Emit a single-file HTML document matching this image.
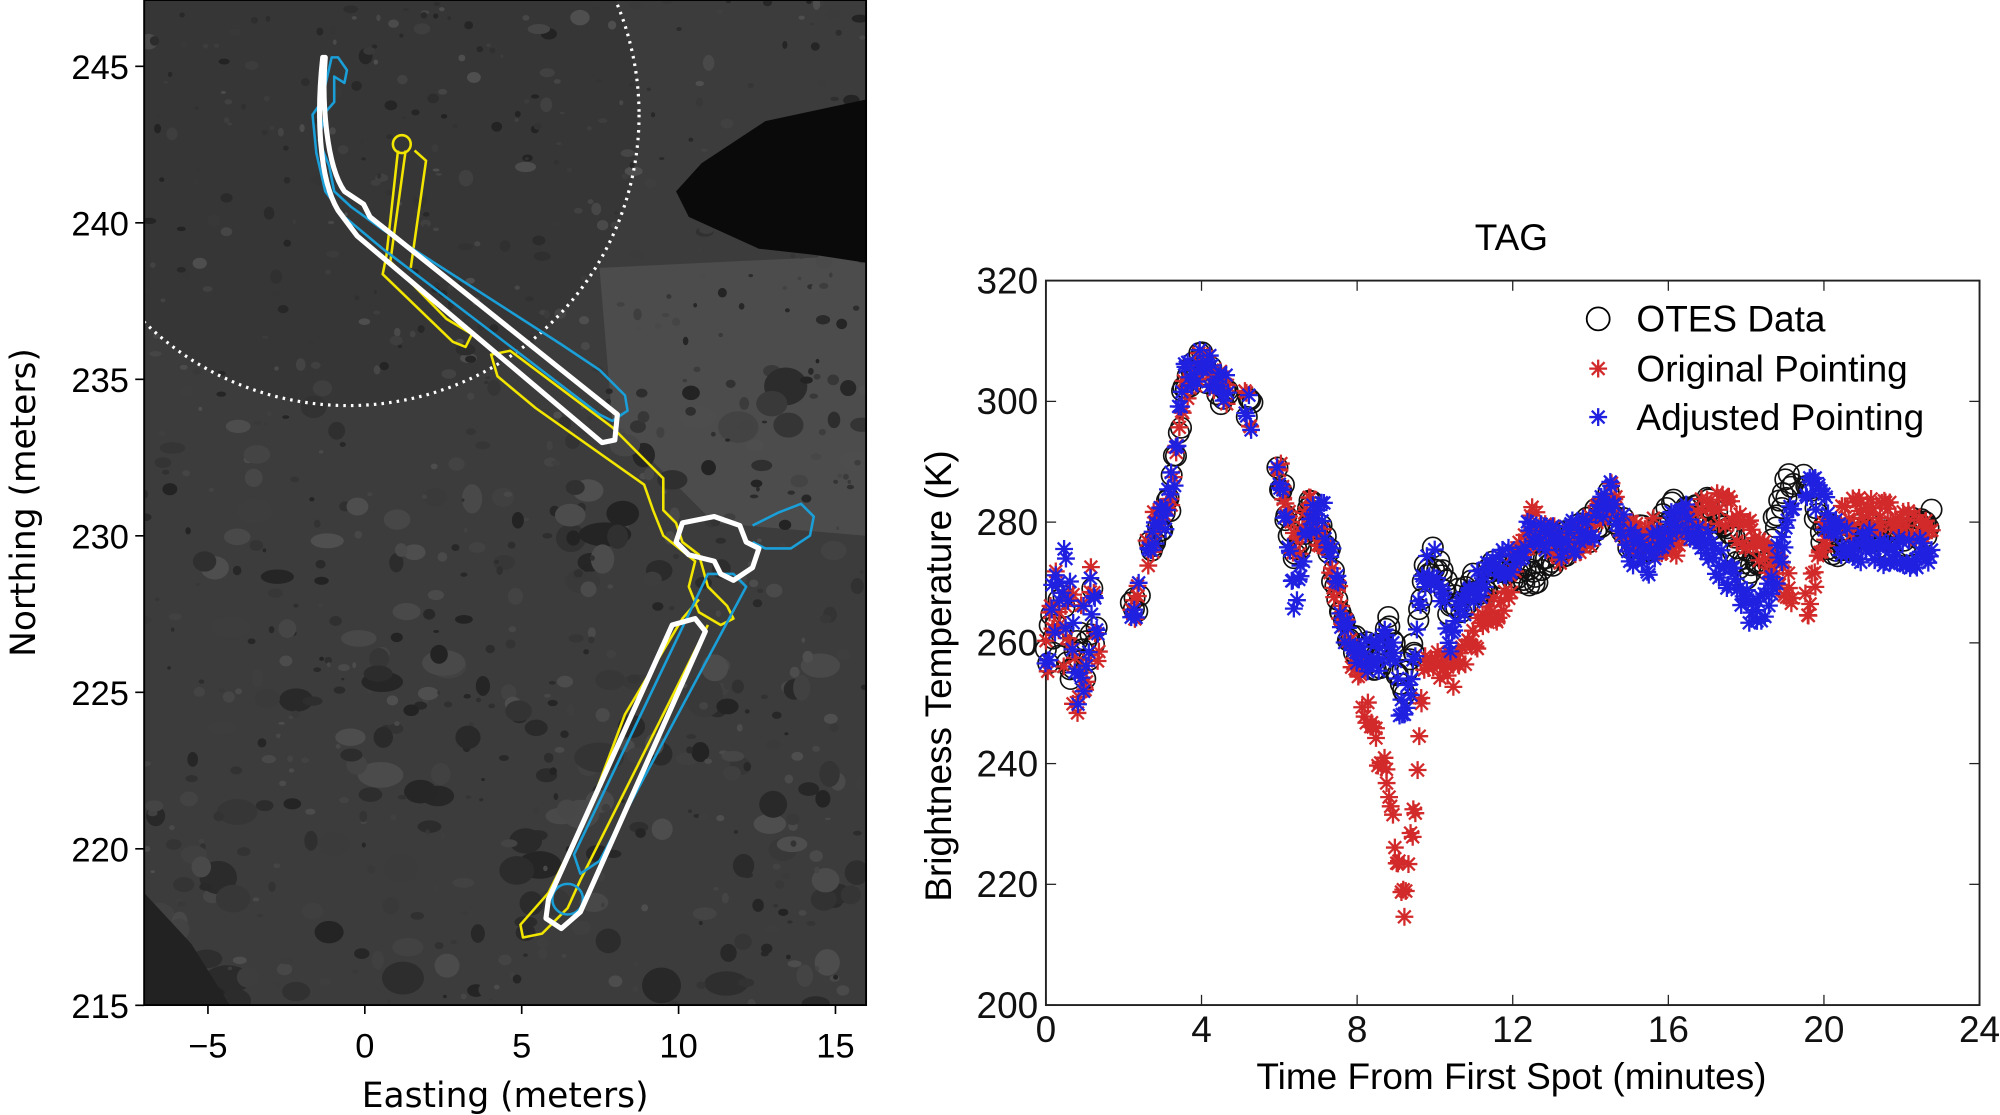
<!DOCTYPE html>
<html><head><meta charset="utf-8"><style>
html,body{margin:0;padding:0;background:#fff;}
svg{display:block;}
text{font-family:"Liberation Sans",sans-serif;}
.dj{font-family:"DejaVu Sans","Liberation Sans",sans-serif;}
</style></head><body>
<svg id="s" width="2000" height="1115" viewBox="0 0 1568 874.2" xmlns="http://www.w3.org/2000/svg">
<defs><clipPath id="mc"><rect x="113" y="0" width="566" height="788"/></clipPath></defs>
<g clip-path="url(#mc)">
<rect x="113" y="0" width="566" height="788" fill="#3c3c3c"/>
<circle cx="273" cy="90" r="228" fill="#363636"/>
<polygon points="470,210 679,200 679,420 560,410 480,330" fill="#4c4c4c"/>
<g id="rocks"></g>
<polygon points="550,128 600,95 679,78 679,206 640,200 595,195 540,170 530,150" fill="#0a0a0a"/>
<polygon points="113,700 150,740 180,788 113,788" fill="#222"/>
<circle cx="273" cy="90" r="228" fill="none" stroke="#fff" stroke-width="2.5" stroke-dasharray="2 4"/>
<g fill="none" stroke-width="2" stroke="#f2e600" stroke-linejoin="round">
<circle cx="315" cy="113" r="7"/>
<path d="M318,118 L306,205 L350,250 L370,262 L365,272 L355,268 L300,215 L303,200 L312,118"/>
<path d="M325,118 L334,126 L322,210"/>
<path d="M385,278 L400,275 L480,335 L520,375 L520,400 L530,410 L535,425 L548,435 L555,460 L570,475 L575,485 L565,490 L548,480 L540,460 L545,440 L520,420 L512,400 L505,380 L420,320 L390,295 Z"/>
<path d="M548,470 L535,485 L490,560 L460,640 L430,700 L408,725 L410,735 L425,732 L445,712 L455,690 L470,660 L500,600 L540,520 L555,490"/>
</g>
<g fill="none" stroke-width="2" stroke="#1a9fd8" stroke-linejoin="round">
<path d="M265,45 L272,55 L270,65 L262,60 L262,80 L255,88 L250,110 L258,130 L262,150 L275,162 L300,180 L440,270 L470,290 L490,310 L492,322 L480,330 L470,325 L300,195 L270,170 L255,150 L248,120 L245,90 L252,80 L260,45 Z"/>
<path d="M590,412 L610,402 L628,395 L638,405 L635,420 L620,430 L600,430 L590,425"/>
<path d="M575,450 L585,460 L470,675 L455,685 L450,670 L555,450 Z"/>
<circle cx="445" cy="705" r="12"/>
</g>
<g fill="none" stroke-width="4" stroke="#fff" stroke-linejoin="round">
<path d="M255,45 C252,80 256,130 270,150 L285,160 L290,170 L484,325 L482,345 L472,347 L280,185 L265,165 C250,140 248,90 253,45 Z"/>
<path d="M535,410 L560,405 L580,412 L585,425 L595,430 L590,445 L575,455 L565,450 L560,440 L540,435 L530,425 Z"/>
<path d="M545,485 L553,495 L455,715 L440,728 L428,720 L430,705 L527,490 Z"/>
</g>
</g>
<rect x="113" y="0" width="566" height="788" fill="none" stroke="#000" stroke-width="1.5"/>
<g class="dj" font-size="27" fill="#000" id="lt"></g>
<text class="dj" x="396" y="868" font-size="27" text-anchor="middle">Easting (meters)</text>
<text class="dj" transform="translate(20,394) rotate(-90)" font-size="27" text-anchor="middle" dominant-baseline="middle">Northing (meters)</text>

<rect x="820" y="220" width="732" height="568" fill="#fff" stroke="#222" stroke-width="1.5"/>
<g id="rt" font-size="29" fill="#111"></g>
<g id="data"></g>
<text x="1185" y="196" font-size="29" text-anchor="middle">TAG</text>
<text x="1185" y="854" font-size="29" text-anchor="middle">Time From First Spot (minutes)</text>
<text transform="translate(738,530) rotate(-90)" font-size="29" text-anchor="middle" dominant-baseline="middle">Brightness Temperature (K)</text>
<g font-size="29">
<circle cx="1253" cy="250" r="9" fill="none" stroke="#000" stroke-width="1.4"/>
<text x="1283" y="260">OTES Data</text>
<text x="1283" y="299">Original Pointing</text>
<text x="1283" y="337">Adjusted Pointing</text>
</g>
<g id="leg"></g>
</svg>
<script>
var NS="http://www.w3.org/2000/svg";
function el(t,a,p){var e=document.createElementNS(NS,t);for(var k in a)e.setAttribute(k,a[k]);p.appendChild(e);return e;}
var seed=7;function rnd(){seed=(seed*16807)%2147483647;return seed/2147483647;}
var rocks=document.getElementById('rocks');
for(var i=0;i<900;i++){var x=113+rnd()*566,y=rnd()*788;var big=y>300?1:0.4;var r=1.5+rnd()*rnd()*14*big;var g=Math.floor(35+rnd()*45);
el('ellipse',{cx:x,cy:y,rx:r*(0.7+rnd()*0.8),ry:r*(0.6+rnd()*0.6),fill:'rgb('+g+','+g+','+g+')'},rocks);}
var lt=document.getElementById('lt');
[245,240,235,230,225,220,215].forEach(function(v,i){var y=52+i*122.7;el('line',{x1:106,x2:113,y1:y,y2:y,stroke:'#000','stroke-width':1.3},lt);var t=el('text',{x:101,y:y+10,'text-anchor':'end'},lt);t.textContent=v;});
[-5,0,5,10,15].forEach(function(v){var x=286+v*24.6;el('line',{x1:x,x2:x,y1:788,y2:795,stroke:'#000','stroke-width':1.3},lt);var t=el('text',{x:x,y:829,'text-anchor':'middle'},lt);t.textContent=v<0?'\u2212'+(-v):v;});
var rt=document.getElementById('rt');
function X(t){return 820+t*30.5;}function Y(k){return 788-(k-200)*4.733;}
for(var k=200;k<=320;k+=20){var y=Y(k);el('line',{x1:820,x2:828,y1:y,y2:y,stroke:'#222'},rt);el('line',{x1:1544,x2:1552,y1:y,y2:y,stroke:'#222'},rt);var t=el('text',{x:814,y:y+10,'text-anchor':'end'},rt);t.textContent=k;}
for(var m=0;m<=24;m+=4){var x=X(m);el('line',{x1:x,x2:x,y1:780,y2:788,stroke:'#222'},rt);el('line',{x1:x,x2:x,y1:220,y2:228,stroke:'#222'},rt);var t=el('text',{x:x,y:817,'text-anchor':'middle'},rt);t.textContent=m;}
var base=[[0,262],[0.5,265],[0.8,255],[1.2,265],[2.3,266],[2.8,279],[3.2,283],[3.5,300],[4,307],[4.5,302],[5.2,299],[6,287],[6.4,275],[6.8,282],[7.2,276],[7.5,268],[7.8,260],[8.2,258],[8.6,258],[8.8,262],[9.2,252],[9.5,260],[9.7,272],[10,274],[10.4,266],[10.8,268],[11.2,270],[11.8,273],[12.5,271],[13.2,276],[14,279],[14.5,283],[15,277],[15.5,277],[16,282],[16.5,280],[17,282],[17.5,277],[18,273],[18.5,274],[19,286],[19.6,286],[20,278],[20.5,276],[21,278],[22,278],[22.7,280]];
function interp(c,t){for(var i=0;i<c.length-1;i++){if(t>=c[i][0]&&t<=c[i+1][0]){var f=(t-c[i][0])/(c[i+1][0]-c[i][0]);return c[i][1]+f*(c[i+1][1]-c[i][1]);}}return c[c.length-1][1];}
function mod(pairs){var c=base.map(function(p){return [p[0],p[1]];});pairs.forEach(function(q){for(var i=0;i<c.length;i++)if(c[i][0]===q[0])c[i][1]=q[1];});return c;}
var red=mod([[4,308],[6,291],[8.2,250],[8.6,240],[8.8,238],[9.2,215],[9.5,235],[9.7,255],[10,256],[10.4,255],[10.8,258],[11.2,262],[11.8,268],[12.5,280],[14.5,284],[15.5,279],[16,275],[17.5,282],[18,278],[19,270],[19.6,266],[20.5,280],[21,282],[22,280]]);
var blue=mod([[0.5,270],[3.5,303],[6.4,268],[7.2,280],[9.2,246],[9.7,270],[10.4,260],[12.5,278],[14.5,285],[15,276],[15.5,274],[16,279],[17,276],[17.5,272],[18,266],[18.5,266],[19,278],[20,282],[20.5,276],[21,276],[22,275],[22.7,274]]);
function gap(t){return (t>1.35&&t<2.2)||(t>2.4&&t<2.6)||(t>4.7&&t<5.1)||(t>5.3&&t<5.9)||(t>19.25&&t<19.5);}
var d=document.getElementById('data');
function star(x,y,c,p){var s=7;el('path',{d:'M'+(x-s)+','+y+'h'+2*s+'M'+x+','+(y-s)+'v'+2*s+'M'+(x-5)+','+(y-5)+'l10,10M'+(x-5)+','+(y+5)+'l10,-10',stroke:c,'stroke-width':1.8,fill:'none'},p);}
function series(c,kind,col,noise,step){for(var t=0;t<=22.8;t+=step){if(gap(t))continue;var k=interp(c,t)+(rnd()-0.5)*noise*(t<1.4?3:1);var x=X(t+(rnd()-0.5)*0.05),y=Y(k);if(kind==='o')el('circle',{cx:x,cy:y,r:8,fill:'none',stroke:'#111','stroke-width':1.3},d);else star(x,y,col,d);}}
series(base,'o','#000',5,0.05);
series(red,'*','#d22a2a',6,0.045);
series(blue,'*','#2020e0',6,0.045);
var leg=document.getElementById('leg');star(1253,289,'#d22a2a',leg);star(1253,327,'#2020e0',leg);
</script>
</body></html>
